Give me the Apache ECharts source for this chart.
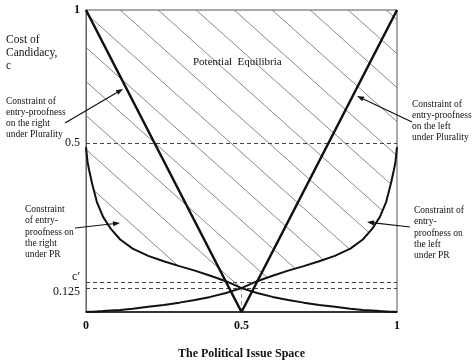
<!DOCTYPE html>
<html>
<head>
<meta charset="utf-8">
<script src="https://cdn.jsdelivr.net/npm/echarts@6/dist/echarts.min.js"></script>
<style>html,body{margin:0;padding:0;background:#fff}#c{width:474px;height:361px}</style>
</head>
<body>
<div id="c"></div>
<script>
// ---- data (schematic: y positions in display units 0..1) ----
const xs = [0, 0.005, 0.01, 0.02, 0.035, 0.055, 0.08, 0.11, 0.15, 0.2, 0.25, 0.3, 0.35, 0.4, 0.45, 0.5,
  0.55, 0.6, 0.65, 0.7, 0.75, 0.8, 0.85, 0.89, 0.92, 0.945, 0.965, 0.98, 0.99, 0.995, 1];
// constraint of entry-proofness on the right under PR (descending)
const prRight = [0.546, 0.497, 0.470, 0.424, 0.364, 0.315, 0.275, 0.240, 0.210, 0.186, 0.168, 0.152, 0.137, 0.120, 0.102, 0.079,
  0.063, 0.050, 0.040, 0.031, 0.023, 0.017, 0.011, 0.007, 0.005, 0.003, 0.002, 0.001, 0.0005, 0.0002, 0];
// constraint of entry-proofness on the left under PR (rising)
const prLeft = [0, 0.0002, 0.0005, 0.001, 0.002, 0.003, 0.005, 0.007, 0.011, 0.017, 0.023, 0.031, 0.040, 0.050, 0.063, 0.079,
  0.102, 0.120, 0.137, 0.152, 0.168, 0.186, 0.210, 0.240, 0.275, 0.315, 0.364, 0.424, 0.470, 0.497, 0.546];
// constraints under plurality (V shape)
const pluralityX = [0, 0.5, 1];
const pluralityC = [1, 0, 1];
// reference levels (dashed)
const levelHalf = 0.56;
const levelCPrime = 0.103;
const levelEighth = 0.079;
// tick labels (label anchor positions, display units)
const yTickValues = [0.066, 0.116, levelHalf, 1];
const yTickLabels = ['0.125', 'c\u2032', '0.5', '1'];
const xTickValues = [0, 0.5, 1];
const xTickLabels = ['0', '0.5', '1'];

const FONT = 'Liberation Serif';

// hatch pattern tile
const TW = 38, TH = 34, TOFF = 33;
const tile = document.createElement('canvas');
tile.width = TW; tile.height = TH;
const tctx = tile.getContext('2d');
tctx.strokeStyle = '#7a7a7a';
tctx.lineWidth = 0.9;
for (let k = -2; k <= 1; k++) {
  const x0 = TOFF % TW + k * TW;
  tctx.beginPath(); tctx.moveTo(x0, 0); tctx.lineTo(x0 + TW, TH); tctx.stroke();
}

const envelope = xs.map((x, i) => [x, Math.max(prRight[i], prLeft[i])]);

function arrow(x1, y1, x2, y2) {
  const dx = x2 - x1, dy = y2 - y1, L = Math.hypot(dx, dy);
  const ux = dx / L, uy = dy / L, hl = 7, hw = 2.6;
  const bx = x2 - ux * hl, by = y2 - uy * hl;
  return [
    { type: 'line', shape: { x1, y1, x2: bx, y2: by }, style: { stroke: '#111', lineWidth: 1.2 }, z: 100 },
    { type: 'polygon', shape: { points: [[x2, y2], [bx - uy * hw, by + ux * hw], [bx + uy * hw, by - ux * hw]] }, style: { fill: '#111' }, z: 100 }
  ];
}
function txt(x, y, s, size, lh, extra) {
  return { type: 'text', left: x, top: y, z: 100,
    style: { text: s, font: (extra || '') + ' ' + size + 'px "' + FONT + '"', lineHeight: lh, fill: '#111' } };
}

const chart = echarts.init(document.getElementById('c'), null, { renderer: 'canvas' });
chart.setOption({
  animation: false,
  backgroundColor: '#fff',
  grid: { left: 86, right: 77, top: 10, bottom: 49, show: true, borderColor: '#555', borderWidth: 1,
    containLabel: false, outerBoundsMode: 'none' },
  xAxis: {
    type: 'value', min: 0, max: 1, interval: 0.5,
    name: 'The Political Issue Space', nameLocation: 'middle', nameGap: 36,
    nameTextStyle: { fontFamily: FONT, fontSize: 12, fontWeight: 'bold', color: '#111' },
    axisLine: { show: true, lineStyle: { color: '#111', width: 1.5 } },
    axisTick: { show: false }, splitLine: { show: false },
    axisLabel: { margin: 8, fontFamily: FONT, fontSize: 12, fontWeight: 'bold', color: '#111',
      formatter: v => { const i = xTickValues.indexOf(v); return i >= 0 ? xTickLabels[i] : ''; } }
  },
  yAxis: {
    type: 'value', min: 0, max: 1,
    axisLine: { show: true, lineStyle: { color: '#666', width: 1 } },
    axisTick: { show: false }, splitLine: { show: false },
    axisLabel: {
      customValues: yTickValues, margin: 6, fontFamily: FONT, fontSize: 12, color: '#111',
      formatter: v => {
        const i = yTickValues.indexOf(v);
        if (i < 0) return '';
        const s = yTickLabels[i];
        return s === '1' ? '{b|' + s + '}' : s;
      },
      rich: { b: { fontFamily: FONT, fontSize: 12, fontWeight: 'bold' } }
    }
  },
  series: [
    { type: 'line', data: envelope, showSymbol: false, silent: true, z: 1,
      lineStyle: { width: 0, opacity: 0 },
      areaStyle: { origin: 'end', opacity: 1, color: { image: tile, repeat: 'repeat' } } },
    { type: 'line', data: [], silent: true, z: 2,
      markLine: { silent: true, symbol: ['none', 'none'], label: { show: false },
        lineStyle: { type: [4, 3], color: '#444', width: 1 },
        data: [ { yAxis: levelHalf }, { yAxis: levelCPrime }, { yAxis: levelEighth },
          [ { coord: [pluralityX[1], 0] }, { coord: [pluralityX[1], levelEighth], lineStyle: { color: '#999' } } ] ] } },
    { type: 'line', data: xs.map((x, i) => [x, prRight[i]]), showSymbol: false, z: 5,
      lineStyle: { color: '#111', width: 2 } },
    { type: 'line', data: xs.map((x, i) => [x, prLeft[i]]), showSymbol: false, z: 5,
      lineStyle: { color: '#111', width: 2 } },
    { type: 'line', data: pluralityX.map((x, i) => [x, pluralityC[i]]), showSymbol: false, z: 6,
      lineStyle: { color: '#111', width: 2.5 } }
  ],
  graphic: [
    txt(6, 33, 'Cost of\nCandidacy,\nc', 11.5, 13),
    txt(193, 55, 'Potential  Equilibria', 11, 14),
    txt(6, 96, 'Constraint of\nentry-proofness\non the right\nunder Plurality', 9.5, 11),
    txt(25, 204, 'Constraint\nof entry-\nproofness on\nthe right\nunder PR', 9.5, 11.3),
    txt(412, 99, 'Constraint of\nentry-proofness\non the left\nunder Plurality', 9.5, 11),
    txt(414, 205, 'Constraint of\nentry-\nproofness on\nthe left\nunder PR', 9.5, 11.3),
    ...arrow(65, 123, 123, 89),
    ...arrow(75, 228, 120, 223),
    ...arrow(412, 122, 357, 96),
    ...arrow(410, 227, 367, 222)
  ]
});
</script>
</body>
</html>
